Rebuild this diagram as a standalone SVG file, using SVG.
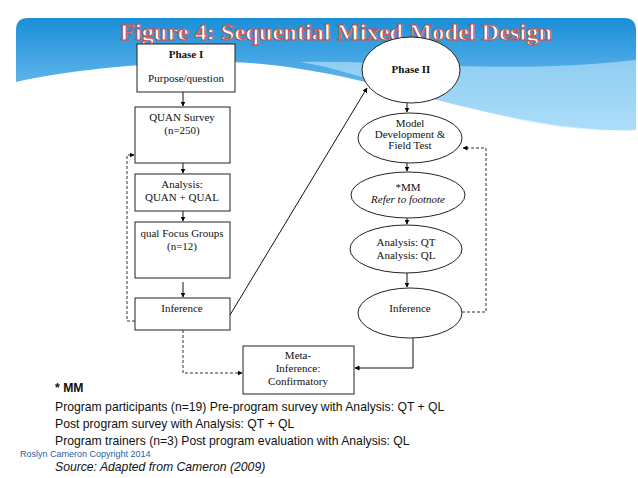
<svg xmlns="http://www.w3.org/2000/svg" width="638" height="478" viewBox="0 0 638 478">
<defs>
<linearGradient id="bg" x1="0" y1="0" x2="0" y2="1"><stop offset="0" stop-color="#1a8fd8"/><stop offset="1" stop-color="#8fd0f5"/></linearGradient>
<marker id="ar" viewBox="0 0 10 10" refX="9" refY="5" markerWidth="5" markerHeight="5" orient="auto"><path d="M0,0 L10,5 L0,10 Z" fill="#000"/></marker>
<style>
.n{fill:#fff;stroke:#222;stroke-width:1}
.t{font-family:"Liberation Serif",serif;font-size:11px;fill:#111;text-anchor:middle}
.c{fill:none;stroke:#111;stroke-width:1}
.d{fill:none;stroke:#333;stroke-width:1;stroke-dasharray:3,2}
.f{font-family:"Liberation Sans",sans-serif;font-size:12.2px;fill:#111}
</style>
</defs>
<rect width="638" height="478" fill="#fff"/>
<path d="M16,30 Q16,18 28,18 H624 Q636,18 636,30 V130 C580,132 520,120 470,108 C400,92 300,58 200,62 C110,65 50,74 16,82 Z" fill="url(#bg)"/>
<path d="M300,62 C400,60 500,75 636,60 V130 C560,132 520,120 470,108 C400,92 350,70 300,62 Z" fill="#bfe6fb" opacity="0.6"/>
<text x="336" y="40" text-anchor="middle" font-family="Liberation Serif,serif" font-weight="bold" font-size="24" fill="#fff" stroke="#c0504d" stroke-width="1" textLength="432" lengthAdjust="spacingAndGlyphs">Figure 4: Sequential Mixed Model Design</text>
<g id="phase1"><rect class="n" x="137" y="44" width="98" height="48"/><text class="t" x="186" y="58" font-weight="bold">Phase I</text><text class="t" x="186" y="82">Purpose/question</text></g>
<g id="quan"><rect class="n" x="135" y="107" width="95" height="56"/><text class="t" x="182" y="121">QUAN Survey</text><text class="t" x="182" y="134">(n=250)</text></g>
<g id="analysis"><rect class="n" x="135" y="174" width="95" height="37"/><text class="t" x="182" y="188">Analysis:</text><text class="t" x="182" y="201">QUAN + QUAL</text></g>
<g id="qual"><rect class="n" x="135" y="222" width="95" height="56"/><text class="t" x="182" y="237">qual Focus Groups</text><text class="t" x="182" y="250">(n=12)</text></g>
<g id="inf1"><rect class="n" x="135" y="298" width="95" height="32"/><text class="t" x="182" y="312">Inference</text></g>
<g id="meta"><rect class="n" x="243" y="346" width="111" height="48"/><text class="t" x="298" y="359">Meta-</text><text class="t" x="298" y="372">Inference:</text><text class="t" x="298" y="385">Confirmatory</text></g>
<g id="phase2"><ellipse class="n" cx="411" cy="70" rx="49" ry="33"/><text class="t" x="411" y="73" font-weight="bold" font-size="10">Phase II</text></g>
<g id="model"><ellipse class="n" cx="410" cy="138" rx="52" ry="25"/><text class="t" x="410" y="127" font-size="8">Model</text><text class="t" x="410" y="138" font-size="8">Development &amp;</text><text class="t" x="410" y="149" font-size="8">Field Test</text></g>
<g id="mm"><ellipse class="n" cx="408" cy="195" rx="57" ry="23"/><text class="t" x="408" y="191">*MM</text><text class="t" x="408" y="203" font-style="italic" font-size="10">Refer to footnote</text></g>
<g id="aqt"><ellipse class="n" cx="406" cy="249" rx="56" ry="24"/><text class="t" x="406" y="246">Analysis: QT</text><text class="t" x="406" y="259">Analysis: QL</text></g>
<g id="inf2"><ellipse class="n" cx="410" cy="313" rx="52" ry="25"/><text class="t" x="410" y="312">Inference</text></g>
<g id="connectors">
<line class="c" x1="183" y1="92" x2="183" y2="106" marker-end="url(#ar)"/>
<line class="c" x1="183" y1="163" x2="183" y2="173" marker-end="url(#ar)"/>
<line class="c" x1="183" y1="211" x2="183" y2="221" marker-end="url(#ar)"/>
<line class="c" x1="183" y1="282" x2="183" y2="297" marker-end="url(#ar)"/>
<line class="c" x1="230" y1="315" x2="367" y2="88" marker-end="url(#ar)"/>
<line class="c" x1="407" y1="103" x2="407" y2="112" marker-end="url(#ar)"/>
<line class="c" x1="407" y1="163" x2="407" y2="171" marker-end="url(#ar)"/>
<line class="c" x1="407" y1="218" x2="407" y2="224" marker-end="url(#ar)"/>
<line class="c" x1="407" y1="273" x2="407" y2="287" marker-end="url(#ar)"/>
<polyline class="d" points="135,321 127,321 127,155 134,155" marker-end="url(#ar)"/>
<polyline class="d" points="183,330 183,373 242,373" marker-end="url(#ar)"/>
<polyline class="c" points="413,338 413,368 355,368" marker-end="url(#ar)" stroke="#555"/>
<polyline class="d" points="462,312 486,312 486,148 463,148" marker-end="url(#ar)"/>
</g>
<text class="f" x="55" y="392" font-weight="bold">* MM</text>
<text class="f" x="55" y="411">Program participants (n=19) Pre-program survey with Analysis: QT +  QL</text>
<text class="f" x="55" y="428">Post program survey with Analysis: QT + QL</text>
<text class="f" x="55" y="445">Program trainers (n=3) Post program evaluation with Analysis:  QL</text>
<text x="20" y="457" font-family="Liberation Sans,sans-serif" font-size="9" fill="#1f5fa8">Roslyn Cameron Copyright 2014</text>
<text class="f" x="55" y="471" font-style="italic">Source: Adapted from Cameron (2009)</text>
</svg>
